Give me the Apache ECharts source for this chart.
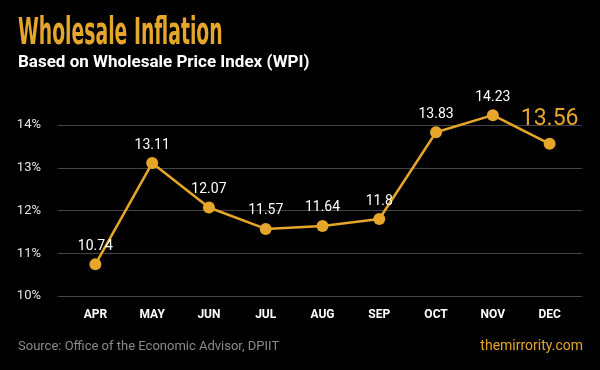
<!DOCTYPE html>
<html><head><meta charset="utf-8">
<script src="https://cdn.jsdelivr.net/npm/echarts@6/dist/echarts.min.js"></script>
<style>html,body{margin:0;padding:0;background:#000;}#c{width:600px;height:370px;}</style>
</head><body><div id="c"></div>
<script>
const months = ['APR','MAY','JUN','JUL','AUG','SEP','OCT','NOV','DEC'];
const wpi = [10.74, 13.11, 12.07, 11.57, 11.64, 11.8, 13.83, 14.23, 13.56];
const yMin = 10, yMax = 14, yStep = 1;
const gold = '#E5A62A';

const chart = echarts.init(document.getElementById('c'));
const seriesData = wpi.map((v, i) => {
  if (i === wpi.length - 1) {
    return {value: v, label: {fontSize: 23, color: gold, distance: 7, fontWeight: 'normal'}};
  }
  return v;
});
chart.setOption({
  backgroundColor: '#000',
  animation: false,
  graphic: [
    {type: 'text', left: 18, top: 16, scaleX: 0.565, style: {text: 'Wholesale Inflation', fill: gold, font: 'bold 37px "Liberation Sans Narrow", "DejaVu Sans Condensed", sans-serif'}},
    {type: 'text', left: 18, top: 54, style: {text: 'Based on Wholesale Price Index (WPI)', fill: '#fff', font: 'bold 17px Roboto, sans-serif'}},
    {type: 'text', left: 18, top: 340, style: {text: 'Source: Office of the Economic Advisor, DPIIT', fill: '#8a8a8a', font: '13px Roboto, sans-serif'}},
    {type: 'text', right: 17, top: 339, style: {text: 'themirrority.com', fill: gold, font: '14px Roboto, sans-serif'}}
  ],
  grid: [
    {left: 67, right: 22, top: 82.25, bottom: 74},
    {left: 58, right: 18, top: 125, bottom: 74}
  ],
  xAxis: [
    {type: 'category', gridIndex: 0, data: months, boundaryGap: true,
     axisLine: {show: false}, axisTick: {show: false},
     axisLabel: {color: '#fff', fontSize: 12, fontWeight: 'bold', fontFamily: 'Roboto', margin: 13}},
    {type: 'value', gridIndex: 1, show: false}
  ],
  yAxis: [
    {type: 'value', gridIndex: 0, min: yMin, max: yMax + yStep, interval: yStep, show: false, splitLine: {show: false}},
    {type: 'value', gridIndex: 1, min: yMin, max: yMax, interval: yStep,
     axisLine: {show: false}, axisTick: {show: false},
     axisLabel: {color: '#e6e6e6', fontSize: 13, fontFamily: 'Roboto', margin: 17, formatter: '{value}%'},
     splitLine: {lineStyle: {color: '#444', width: 1}}}
  ],
  series: [{
    type: 'line', xAxisIndex: 0, yAxisIndex: 0,
    data: seriesData, clip: false,
    symbol: 'circle', symbolSize: 12,
    lineStyle: {color: gold, width: 2.5},
    itemStyle: {color: gold},
    label: {show: true, position: 'top', color: '#fff', fontSize: 14, fontFamily: 'Roboto'}
  }]
});
</script></body></html>
